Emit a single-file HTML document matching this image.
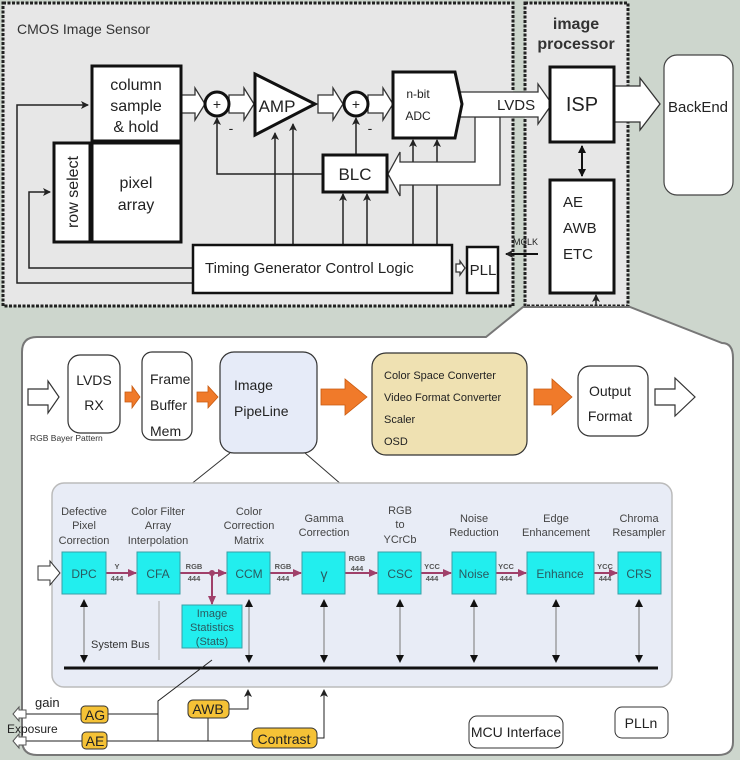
<!DOCTYPE html>
<html><head><meta charset="utf-8"><style>
html,body{margin:0;padding:0;background:#cdd6cd;}
svg{display:block;font-family:"Liberation Sans","NanumGothic",sans-serif;}
</style></head><body>
<svg width="740" height="760" viewBox="0 0 740 760" xmlns="http://www.w3.org/2000/svg">
<defs>
<marker id="ah" markerWidth="8" markerHeight="8" refX="7" refY="4" orient="auto" markerUnits="userSpaceOnUse"><path d="M0,0 L8,4 L0,8 L2,4 z" fill="#222"/></marker>
<marker id="sa" markerWidth="8" markerHeight="8" refX="7" refY="4" orient="auto-start-reverse" markerUnits="userSpaceOnUse"><path d="M0,0 L8,4 L0,8 z" fill="#111"/></marker>
<marker id="pa" markerWidth="9" markerHeight="8" refX="8" refY="4" orient="auto" markerUnits="userSpaceOnUse"><path d="M0,0 L9,4 L0,8 z" fill="#a0406a"/></marker>
</defs>
<rect width="740" height="760" fill="#cdd6cd"/>
<rect x="3" y="3" width="510" height="303" fill="#e7e7e7" stroke="#222" stroke-width="3" stroke-dasharray="3,1.5"/>
<rect x="525" y="3" width="103" height="303" fill="#e7e7e7" stroke="#222" stroke-width="3" stroke-dasharray="3,1.5"/>
<text x="17" y="34" font-size="14" fill="#333">CMOS Image Sensor</text>
<text x="576" y="29" font-size="16" font-weight="bold" fill="#333" text-anchor="middle">image</text>
<text x="576" y="49" font-size="16" font-weight="bold" fill="#333" text-anchor="middle">processor</text>

<g stroke="#222" stroke-width="1.5" fill="none">
<polyline points="193,268 29,268 29,192 50,192" marker-end="url(#ah)"/>
<polyline points="193,283 17,283 17,105 88,105" marker-end="url(#ah)"/>
<polyline points="323,174 217,174 217,118" marker-end="url(#ah)"/>
<line x1="356" y1="155" x2="356" y2="118" marker-end="url(#ah)"/>
<line x1="275" y1="245" x2="275" y2="133" marker-end="url(#ah)"/>
<line x1="293" y1="245" x2="293" y2="124" marker-end="url(#ah)"/>
<line x1="343" y1="245" x2="343" y2="194" marker-end="url(#ah)"/>
<line x1="367" y1="245" x2="367" y2="194" marker-end="url(#ah)"/>
<line x1="413" y1="245" x2="413" y2="140" marker-end="url(#ah)"/>
<line x1="437" y1="245" x2="437" y2="140" marker-end="url(#ah)"/>
<line x1="596" y1="307" x2="596" y2="295" marker-end="url(#ah)"/>
</g>
<line x1="538" y1="254" x2="506" y2="254" stroke="#111" stroke-width="2" marker-end="url(#ah)"/>
<text x="513" y="245" font-size="9" fill="#222">MCLK</text>
<line x1="582" y1="146" x2="582" y2="176" stroke="#111" stroke-width="2" marker-start="url(#sa)" marker-end="url(#sa)"/>

<g fill="#fff" stroke="#333" stroke-width="1.3">
<polygon points="475,117 475,162 400,162 400,152 388,174 400,196 400,185 500,185 500,117"/>
<polygon points="181,95 195,95 195,88 205,104 195,120 195,113 181,113"/>
<polygon points="229,95 244,95 244,88 254,104 244,120 244,113 229,113"/>
<polygon points="318,95 333,95 333,88 343,104 333,120 333,113 318,113"/>
<polygon points="368,95 383,95 383,88 393,104 383,120 383,113 368,113"/>
<polygon points="460,92 538,92 538,84 552,104 538,124 538,117 460,117"/>
<polygon points="614,86 640,86 640,78 660,104 640,130 640,122 614,122"/>
<polygon points="456,264 460,264 460,261 465,268 460,275 460,272 456,272"/>
</g>
<text x="497" y="110" font-size="15" fill="#222">LVDS</text>

<g fill="#fff" stroke="#111" stroke-width="3">
<rect x="92" y="66" width="89" height="75"/>
<rect x="54" y="143" width="36" height="99"/>
<rect x="92" y="143" width="89" height="99"/>
<rect x="323" y="155" width="64" height="37"/>
<polygon points="255,74 315,104 255,135"/>
<polygon points="393,72 455,72 462,104 455,138 393,138"/>
<rect x="193" y="245" width="259" height="48" stroke-width="2.5"/>
<rect x="467" y="247" width="31" height="46" stroke-width="2.5"/>
<rect x="550" y="67" width="64" height="75"/>
<rect x="550" y="180" width="64" height="113"/>
<circle cx="217" cy="104" r="12"/>
<circle cx="356" cy="104" r="12"/>
</g>
<rect x="664" y="55" width="69" height="140" rx="13" fill="#fff" stroke="#444" stroke-width="1.2"/>
<g fill="#222" font-size="16" text-anchor="middle">
<text x="136" y="90">column</text><text x="136" y="111">sample</text><text x="136" y="132">&amp; hold</text>
<text x="136" y="188">pixel</text><text x="136" y="210">array</text>
<text transform="translate(78,192) rotate(-90)" font-size="16">row select</text>
<text x="355" y="180" font-size="17">BLC</text>
<text x="277" y="112" font-size="17" text-anchor="middle">AMP</text>
<text x="217" y="109" font-size="14">+</text><text x="356" y="109" font-size="14">+</text>
<text x="231" y="133" font-size="14">-</text><text x="370" y="133" font-size="14">-</text>
<text x="418" y="98" font-size="12">n-bit</text><text x="418" y="120" font-size="12">ADC</text>
<text x="205" y="273" font-size="15" text-anchor="start">Timing Generator Control Logic</text>
<text x="483" y="275" font-size="15">PLL</text>
<text x="582" y="111" font-size="20">ISP</text>
<text x="698" y="112" font-size="15">BackEnd</text>
</g>
<g fill="#222" font-size="15"><text x="563" y="207">AE</text><text x="563" y="233">AWB</text><text x="563" y="259">ETC</text></g>

<path d="M37,337 L486,337 L523,307 L630,307 L722,343 Q733,343 733,358 L733,742 Q733,755 718,755 L37,755 Q22,755 22,740 L22,352 Q22,337 37,337 Z" fill="#fff" stroke="#777" stroke-width="2"/>
<g fill="#fff" stroke="#333" stroke-width="1.2">
<polygon points="28,389 48,389 48,381 59,397 48,413 48,405 28,405"/>
<polygon points="655,389 675,389 675,378 695,397 675,416 675,405 655,405"/>
<rect x="68" y="355" width="52" height="78" rx="12"/>
<rect x="142" y="352" width="50" height="88" rx="10"/>
<rect x="220" y="352" width="97" height="101" rx="14" fill="#e6ebf8"/>
<rect x="372" y="353" width="155" height="102" rx="14" fill="#efe1b2"/>
<rect x="578" y="366" width="70" height="70" rx="12"/>
</g>
<g fill="#f07a2a" stroke="#c85a10" stroke-width="0.8">
<polygon points="125,392 132,392 132,386 140,397 132,408 132,402 125,402"/>
<polygon points="197,392 208,392 208,386 218,397 208,408 208,402 197,402"/>
<polygon points="321,389 345,389 345,379 367,397 345,415 345,405 321,405"/>
<polygon points="534,389 552,389 552,379 572,397 552,415 552,405 534,405"/>
</g>
<g fill="#222" font-size="14" text-anchor="middle">
<text x="94" y="385">LVDS</text><text x="94" y="410">RX</text>
<text x="610" y="396">Output</text><text x="610" y="421">Format</text>
</g>
<g fill="#222" font-size="14">
<text x="150" y="384">Frame</text><text x="150" y="410">Buffer</text><text x="150" y="436">Mem</text>
<text x="234" y="390">Image</text><text x="234" y="416">PipeLine</text>
</g>
<text x="30" y="441" font-size="8.5" fill="#333">RGB Bayer Pattern</text>
<g fill="#222" font-size="11"><text x="384" y="379">Color Space Converter</text><text x="384" y="401">Video Format Converter</text><text x="384" y="423">Scaler</text><text x="384" y="445">OSD</text></g>
<g stroke="#333" stroke-width="1"><line x1="230" y1="453" x2="190" y2="485"/><line x1="305" y1="453" x2="342" y2="485"/></g>

<rect x="52" y="483" width="620" height="204" rx="12" fill="#e8ecf6" stroke="#bbb" stroke-width="1.5"/>
<polygon points="38,566 50,566 50,561 60,573 50,585 50,580 38,580" fill="#fff" stroke="#333"/>
<g fill="#444" font-size="11" text-anchor="middle">
<text x="84" y="515">Defective</text><text x="84" y="529">Pixel</text><text x="84" y="544">Correction</text>
<text x="158" y="515">Color Filter</text><text x="158" y="529">Array</text><text x="158" y="544">Interpolation</text>
<text x="249" y="515">Color</text><text x="249" y="529">Correction</text><text x="249" y="544">Matrix</text>
<text x="324" y="522">Gamma</text><text x="324" y="536">Correction</text>
<text x="400" y="514">RGB</text><text x="400" y="528">to</text><text x="400" y="543">YCrCb</text>
<text x="474" y="522">Noise</text><text x="474" y="536">Reduction</text>
<text x="556" y="522">Edge</text><text x="556" y="536">Enhancement</text>
<text x="639" y="522">Chroma</text><text x="639" y="536">Resampler</text>
</g>
<g stroke="#777" stroke-width="1">
<line x1="84" y1="600" x2="84" y2="662" marker-start="url(#sa)" marker-end="url(#sa)"/>
<line x1="249" y1="600" x2="249" y2="662" marker-start="url(#sa)" marker-end="url(#sa)"/>
<line x1="324" y1="600" x2="324" y2="662" marker-start="url(#sa)" marker-end="url(#sa)"/>
<line x1="400" y1="600" x2="400" y2="662" marker-start="url(#sa)" marker-end="url(#sa)"/>
<line x1="474" y1="600" x2="474" y2="662" marker-start="url(#sa)" marker-end="url(#sa)"/>
<line x1="556" y1="600" x2="556" y2="662" marker-start="url(#sa)" marker-end="url(#sa)"/>
<line x1="639" y1="600" x2="639" y2="662" marker-start="url(#sa)" marker-end="url(#sa)"/>
<line x1="159" y1="601" x2="159" y2="660" stroke="#aaa"/>
</g>
<line x1="64" y1="668" x2="658" y2="668" stroke="#111" stroke-width="3"/>
<text x="91" y="648" font-size="11" fill="#333">System Bus</text>
<g stroke="#a0406a" stroke-width="2" fill="none">
<line x1="106" y1="573" x2="136" y2="573" marker-end="url(#pa)"/>
<line x1="180" y1="573" x2="226" y2="573" marker-end="url(#pa)"/>
<line x1="212" y1="573" x2="212" y2="604" marker-end="url(#pa)"/>
<line x1="270" y1="573" x2="301" y2="573" marker-end="url(#pa)"/>
<line x1="345" y1="573" x2="377" y2="573" marker-end="url(#pa)"/>
<line x1="421" y1="573" x2="451" y2="573" marker-end="url(#pa)"/>
<line x1="496" y1="573" x2="526" y2="573" marker-end="url(#pa)"/>
<line x1="594" y1="573" x2="617" y2="573" marker-end="url(#pa)"/>
</g>
<circle cx="212" cy="573" r="3" fill="#a0406a"/>
<g font-size="7.5" fill="#555" font-weight="bold" text-anchor="middle">
<text x="117" y="569">Y</text><text x="117" y="581">444</text>
<text x="194" y="569">RGB</text><text x="194" y="581">444</text>
<text x="283" y="569">RGB</text><text x="283" y="581">444</text>
<text x="357" y="561">RGB</text><text x="357" y="571">444</text>
<text x="432" y="569">YCC</text><text x="432" y="581">444</text>
<text x="506" y="569">YCC</text><text x="506" y="581">444</text>
<text x="605" y="569">YCC</text><text x="605" y="581">444</text>
</g>
<g fill="#22eeee" stroke="#3a9fa5" stroke-width="1">
<rect x="62" y="552" width="44" height="42"/><rect x="137" y="552" width="43" height="42"/>
<rect x="227" y="552" width="43" height="42"/><rect x="302" y="552" width="43" height="42"/>
<rect x="378" y="552" width="43" height="42"/><rect x="452" y="552" width="44" height="42"/>
<rect x="527" y="552" width="67" height="42"/><rect x="618" y="552" width="43" height="42"/>
<rect x="182" y="605" width="60" height="43"/>
</g>
<g fill="#2a5a60" font-size="12" text-anchor="middle">
<text x="84" y="578">DPC</text><text x="158" y="578">CFA</text><text x="249" y="578">CCM</text><text x="324" y="579" font-size="14">γ</text>
<text x="400" y="578">CSC</text><text x="474" y="578">Noise</text><text x="560" y="578">Enhance</text><text x="639" y="578">CRS</text>
<text x="212" y="617" font-size="11">Image</text><text x="212" y="631" font-size="11">Statistics</text><text x="212" y="645" font-size="11">(Stats)</text>
</g>
<g stroke="#222" stroke-width="1" fill="none">
<polyline points="212,660 158,701 158,741"/>
<line x1="108" y1="714" x2="158" y2="714"/>
<line x1="26" y1="741" x2="252" y2="741"/>
<line x1="26" y1="714" x2="81" y2="714"/>
<line x1="208" y1="717" x2="208" y2="741"/>
<polyline points="229,709 248,709 248,690" marker-end="url(#ah)"/>
<polyline points="317,738 324,738 324,690" marker-end="url(#ah)"/>
</g>
<g fill="#fff" stroke="#555"><polygon points="26,710 26,718 19,718 19,721 13,714 19,707 19,710"/><polygon points="26,737 26,745 19,745 19,748 13,741 19,734 19,737"/></g>
<g fill="#f5c236" stroke="#333" stroke-width="1">
<rect x="81" y="706" width="27" height="17" rx="4"/><rect x="82" y="732" width="25" height="17" rx="4"/>
<rect x="188" y="700" width="41" height="18" rx="5"/><rect x="252" y="728" width="65" height="20" rx="6"/>
</g>
<g fill="#222" font-size="14" text-anchor="middle">
<text x="95" y="720">AG</text><text x="95" y="746">AE</text><text x="208" y="714">AWB</text><text x="284" y="744">Contrast</text>
</g>
<text x="35" y="707" font-size="13" fill="#222">gain</text>
<text x="7" y="733" font-size="12" fill="#222">Exposure</text>
<rect x="469" y="716" width="94" height="32" rx="8" fill="#fff" stroke="#333"/>
<text x="516" y="737" font-size="14" fill="#222" text-anchor="middle">MCU Interface</text>
<rect x="615" y="707" width="53" height="31" rx="7" fill="#fff" stroke="#333"/>
<text x="641" y="728" font-size="14" fill="#222" text-anchor="middle">PLLn</text>
</svg>
</body></html>
